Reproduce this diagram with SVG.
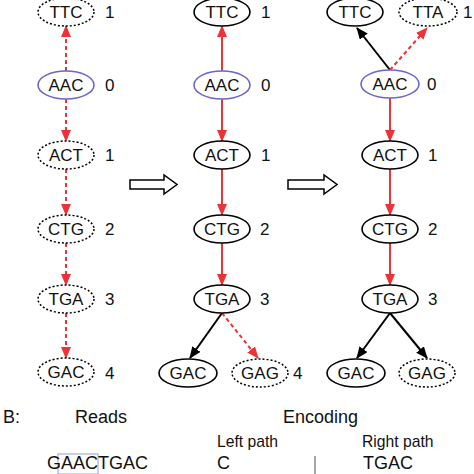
<svg xmlns="http://www.w3.org/2000/svg" width="474" height="474" viewBox="0 0 474 474">
<defs>
<marker id="ar" markerUnits="userSpaceOnUse" markerWidth="12" markerHeight="10" refX="11" refY="5" orient="auto"><path d="M0,0 L12,5 L0,10 z" fill="#ee3338"/></marker>
<marker id="ab" markerUnits="userSpaceOnUse" markerWidth="12" markerHeight="10" refX="11" refY="5" orient="auto"><path d="M0,0 L12,5 L0,10 z" fill="#000"/></marker>
<style>
text{font-family:"Liberation Sans",Arial,sans-serif;fill:#111}
.n ellipse{fill:#fff;stroke:#000;stroke-width:1.6}
.n text{font-size:17px;text-anchor:middle}
.n.d ellipse{stroke-dasharray:2 2;stroke-width:1.5}
.n.b ellipse{stroke:#6a66cc}
.num{font-size:17px}
.er{stroke:#ee3338;stroke-width:2;fill:none;marker-end:url(#ar)}
.er.d{stroke-dasharray:4 3}
.eb{stroke:#000;stroke-width:2;fill:none;marker-end:url(#ab)}
.ho{fill:#fff;stroke:#000;stroke-width:1.5}
.lab{font-size:18px}
.sm{font-size:15.7px}
</style>
</defs>
<g id="connectors">
<line class="er d" x1="66" y1="71" x2="66" y2="26"/>
<line class="er d" x1="66" y1="99" x2="66" y2="141"/>
<line class="er d" x1="66" y1="169" x2="66" y2="215"/>
<line class="er d" x1="66" y1="243" x2="66" y2="285"/>
<line class="er d" x1="66" y1="313" x2="66" y2="358"/>
<line class="er" x1="222" y1="71" x2="222" y2="26"/>
<line class="er" x1="222" y1="99" x2="222" y2="141"/>
<line class="er" x1="222" y1="169" x2="222" y2="215"/>
<line class="er" x1="222" y1="243" x2="222" y2="285"/>
<line class="eb" x1="222" y1="313" x2="190" y2="358"/>
<line class="er d" x1="222" y1="313" x2="258" y2="358"/>
<line class="eb" x1="390" y1="70" x2="357" y2="28"/>
<line class="er d" x1="390" y1="70" x2="427" y2="28"/>
<line class="er" x1="390" y1="98" x2="390" y2="141"/>
<line class="er" x1="390" y1="169" x2="390" y2="215"/>
<line class="er" x1="390" y1="243" x2="390" y2="285"/>
<line class="eb" x1="390" y1="313" x2="357" y2="358"/>
<line class="eb" x1="390" y1="313" x2="427" y2="358"/>
</g>
<g id="c1-ttc" class="n d"><ellipse cx="66" cy="12" rx="28" ry="14"/><text x="66" y="18">TTC</text></g>
<g id="c1-aac" class="n b"><ellipse cx="66" cy="85" rx="28" ry="14"/><text x="66" y="91">AAC</text></g>
<g id="c1-act" class="n d"><ellipse cx="66" cy="155" rx="28" ry="14"/><text x="66" y="161">ACT</text></g>
<g id="c1-ctg" class="n d"><ellipse cx="66" cy="229" rx="28" ry="14"/><text x="66" y="235">CTG</text></g>
<g id="c1-tga" class="n d"><ellipse cx="66" cy="299" rx="28" ry="14"/><text x="66" y="305">TGA</text></g>
<g id="c1-gac" class="n d"><ellipse cx="66" cy="372" rx="28" ry="14"/><text x="66" y="378">GAC</text></g>
<g id="c2-ttc" class="n"><ellipse cx="222" cy="12" rx="28" ry="14"/><text x="222" y="18">TTC</text></g>
<g id="c2-aac" class="n b"><ellipse cx="222" cy="85" rx="28" ry="14"/><text x="222" y="91">AAC</text></g>
<g id="c2-act" class="n"><ellipse cx="222" cy="155" rx="28" ry="14"/><text x="222" y="161">ACT</text></g>
<g id="c2-ctg" class="n"><ellipse cx="222" cy="229" rx="28" ry="14"/><text x="222" y="235">CTG</text></g>
<g id="c2-tga" class="n"><ellipse cx="222" cy="299" rx="28" ry="14"/><text x="222" y="305">TGA</text></g>
<g id="c2-gac" class="n"><ellipse cx="188" cy="373" rx="29" ry="14"/><text x="188" y="379">GAC</text></g>
<g id="c2-gag" class="n d"><ellipse cx="260" cy="373" rx="28" ry="14"/><text x="260" y="379">GAG</text></g>
<g id="c3-ttc" class="n"><ellipse cx="355" cy="12" rx="28" ry="14"/><text x="355" y="18">TTC</text></g>
<g id="c3-tta" class="n d"><ellipse cx="428" cy="12" rx="29" ry="14"/><text x="428" y="18">TTA</text></g>
<g id="c3-aac" class="n b"><ellipse cx="390" cy="84" rx="29" ry="14"/><text x="390" y="90">AAC</text></g>
<g id="c3-act" class="n"><ellipse cx="390" cy="155" rx="28" ry="14"/><text x="390" y="161">ACT</text></g>
<g id="c3-ctg" class="n"><ellipse cx="390" cy="229" rx="28" ry="14"/><text x="390" y="235">CTG</text></g>
<g id="c3-tga" class="n"><ellipse cx="390" cy="299" rx="28" ry="14"/><text x="390" y="305">TGA</text></g>
<g id="c3-gac" class="n"><ellipse cx="356" cy="373" rx="29" ry="14"/><text x="356" y="379">GAC</text></g>
<g id="c3-gag" class="n d"><ellipse cx="427" cy="373" rx="28" ry="14"/><text x="427" y="379">GAG</text></g>
<g id="numbers" class="num">
<text class="num" x="105" y="18">1</text>
<text class="num" x="105" y="91">0</text>
<text class="num" x="105" y="161">1</text>
<text class="num" x="105" y="235">2</text>
<text class="num" x="105" y="305">3</text>
<text class="num" x="105" y="379">4</text>
<text class="num" x="261" y="18">1</text>
<text class="num" x="261" y="91">0</text>
<text class="num" x="261" y="161">1</text>
<text class="num" x="260" y="235">2</text>
<text class="num" x="260" y="305">3</text>
<text class="num" x="293" y="379">4</text>
<text class="num" x="463" y="18">1</text>
<text class="num" x="427" y="90">0</text>
<text class="num" x="428" y="161">1</text>
<text class="num" x="428" y="235">2</text>
<text class="num" x="428" y="305">3</text>
</g>
<g id="hollow-arrows">
<polygon class="ho" points="130,180 164,180 164,175 177,184.5 164,194 164,189 130,189"/>
<polygon class="ho" points="288,180 324,180 324,175 337,184.5 324,194 324,189 288,189"/>
</g>
<g id="legend">
<text class="lab" x="3" y="423">B:</text>
<text class="lab" x="75" y="423">Reads</text>
<text class="lab" x="283" y="423">Encoding</text>
<text class="sm" x="217" y="447">Left path</text>
<text class="sm" x="362" y="447">Right path</text>
<rect x="58" y="454" width="40" height="20" fill="none" stroke="#9a9ade" stroke-width="1"/>
<text class="lab" x="47" y="469">GAACTGAC</text>
<text class="lab" x="217" y="469">C</text>
<line x1="315" y1="456" x2="315" y2="474" stroke="#888" stroke-width="1.5"/>
<text class="lab" x="363" y="469">TGAC</text>
</g>
</svg>
